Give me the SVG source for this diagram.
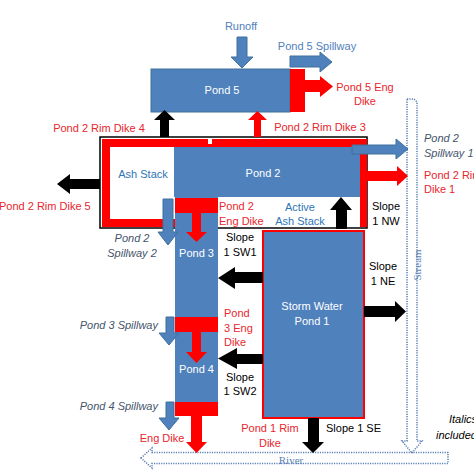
<svg xmlns="http://www.w3.org/2000/svg" width="474" height="474" viewBox="0 0 474 474">
<style>
text{font-family:"Liberation Sans",Arial,sans-serif;font-size:11px}
.pond{fill:#4F81BD;stroke:#41719C;stroke-width:1}
.red{fill:#FF0000}
.blk{fill:#000}
.spill{fill:#4F81BD;stroke:#41719C;stroke-width:1}
.wt{fill:#fff}
.rt{fill:#E8262D}
.bt{fill:#4F81BD}
.at{fill:#2E75B6}
.it{fill:#44546A;font-style:italic}
.kt{fill:#000}
.dot{fill:none;stroke:#5B7FB5;stroke-width:1.5;stroke-dasharray:1.2 1.2}
.mid{text-anchor:middle}
.end{text-anchor:end}
</style>
<rect width="474" height="474" fill="#fff"/>

<g id="ash-stack-frame">
<rect x="100" y="137" width="267" height="91" fill="#fff" stroke="#000" stroke-width="1.5"/>
<rect class="red" x="102" y="139" width="263" height="8"/>
<rect class="wt" x="208" y="139" width="4" height="5"/>
<rect class="red" x="102" y="147" width="8" height="80"/>
<rect class="red" x="102" y="219" width="73" height="8"/>
<rect class="red" x="360" y="139" width="7" height="88"/>
<text class="at mid" x="143" y="178">Ash Stack</text>
<text class="at mid" x="300" y="211">Active</text>
<text class="at mid" x="300" y="225">Ash Stack</text>
</g>

<g id="pond5">
<rect class="pond" x="151" y="69" width="139" height="43"/>
<rect class="red" x="290" y="69" width="15" height="43"/>
<text class="wt mid" x="222" y="94">Pond 5</text>
</g>

<g id="pond2">
<rect x="174" y="147" width="186" height="50" fill="#4F81BD"/>
<text class="wt mid" x="263" y="177">Pond 2</text>
</g>

<g id="pond3">
<rect x="175" y="197" width="43" height="120" fill="#4F81BD"/>
<rect class="red" x="175" y="198" width="43" height="15"/>
<text class="wt mid" x="196.5" y="257">Pond 3</text>
</g>

<g id="pond4">
<rect x="175" y="317" width="43" height="99" fill="#4F81BD"/>
<rect class="red" x="175" y="317" width="43" height="15"/>
<rect class="red" x="175" y="402" width="43" height="14"/>
<text class="wt mid" x="196.5" y="373">Pond 4</text>
</g>

<g id="pond1">
<rect x="263" y="231" width="101" height="187" fill="#4F81BD" stroke="#FF0000" stroke-width="2"/>
<text class="wt mid" x="312" y="310">Storm Water</text>
<text class="wt mid" x="312" y="325">Pond 1</text>
</g>

<g id="stream">
<polygon class="dot" points="407,99 414,99 417,102 417,441 422,441 412,453 402,441 407,441"/>
<text transform="translate(421,265) rotate(-90)" text-anchor="middle" style="font-family:'Liberation Serif',serif;font-size:11px;fill:#5B7FB5">Stream</text>
</g>

<g id="river">
<polygon class="dot" points="141,458 152,448 152,452.5 448,452.5 448,463.5 152,463.5 152,468"/>
<text x="291" y="464" text-anchor="middle" style="font-family:'Liberation Serif',serif;font-size:11px;fill:#5B7FB5">River</text>
</g>

<g id="connectors">
<polygon class="spill" points="237,37 247,37 247,57 253,57 242,68 231,57 237,57"/>
<polygon class="spill" points="290,56 320,56 320,52 332,62 320,72 320,67 290,67"/>
<polygon class="red" points="305,80 320,80 320,76 333,86.5 320,97 320,92 305,92"/>
<polygon class="blk" points="160,137 160,120 154,120 164.5,110 175,120 169,120 169,137"/>
<polygon class="red" points="254,137 254,120 248,120 257.5,111 267,120 261,120 261,137"/>
<polygon class="blk" points="100,179 70,179 70,174 57,184 70,194 70,189 100,189"/>
<polygon class="red" points="367,171 397,171 397,166 408,176 397,186 397,181 367,181"/>
<polygon class="spill" points="352,145 396,145 396,139 408,149 396,159 396,154 352,154"/>
<polygon class="spill" points="163,199 173,199 173,232 178,232 168,245 158,232 163,232"/>
<polygon class="red" points="192,213 201,213 201,232 207,232 196.5,242 186,232 192,232"/>
<polygon class="blk" points="336,229 336,210 330,210 341,197 352,210 347,210 347,229"/>
<polygon class="blk" points="263,272 235,272 235,267 218,278 235,289 235,283 263,283"/>
<polygon class="red" points="192,332 201,332 201,352 207,352 196.5,363 186,352 192,352"/>
<polygon class="spill" points="166,317 174,317 174,333 179,333 169,345 159,333 166,333"/>
<polygon class="blk" points="263,354 237,354 237,348 218,358.5 237,369 237,364 263,364"/>
<polygon class="blk" points="364,306 395,306 395,301 406,311.5 395,322 395,317 364,317"/>
<polygon class="spill" points="166,402 174,402 174,418 179,418 169,430 159,418 166,418"/>
<polygon class="red" points="191,416 202,416 202,442 207,442 196.5,453 186,442 191,442"/>
<polygon class="blk" points="308,418 319,418 319,442 324,442 313,453 302,442 308,442"/>
</g>

<g id="labels">
<text class="bt mid" x="241" y="30">Runoff</text>
<text class="bt mid" x="317" y="50">Pond 5 Spillway</text>
<text class="rt mid" x="365" y="91">Pond 5 Eng</text>
<text class="rt mid" x="365" y="105">Dike</text>
<text class="rt mid" x="99" y="132">Pond 2 Rim Dike 4</text>
<text class="rt mid" x="320" y="131">Pond 2 Rim Dike 3</text>
<text class="rt" x="-1" y="210">Pond 2 Rim Dike 5</text>
<text class="it mid" x="132" y="242">Pond 2</text>
<text class="it mid" x="132" y="257">Spillway 2</text>
<text class="rt" x="219" y="210">Pond 2</text>
<text class="rt" x="219" y="225">Eng Dike</text>
<text class="kt mid" x="386" y="210">Slope</text>
<text class="kt mid" x="386" y="225">1 NW</text>
<text class="kt mid" x="240" y="241">Slope</text>
<text class="kt mid" x="240" y="256">1 SW1</text>
<text class="kt mid" x="383" y="270">Slope</text>
<text class="kt mid" x="383" y="285">1 NE</text>
<text class="rt" x="224" y="317">Pond</text>
<text class="rt" x="224" y="332">3 Eng</text>
<text class="rt" x="224" y="346">Dike</text>
<text class="it end" x="158" y="329">Pond 3 Spillway</text>
<text class="kt mid" x="240" y="381">Slope</text>
<text class="kt mid" x="240" y="395">1 SW2</text>
<text class="it end" x="158" y="410">Pond 4 Spillway</text>
<text class="rt mid" x="270" y="432">Pond 1 Rim</text>
<text class="rt mid" x="270" y="447">Dike</text>
<text class="kt" x="326" y="432">Slope 1 SE</text>
<text class="rt mid" x="162" y="442">Eng Dike</text>
<text class="it" x="424" y="142">Pond 2</text>
<text class="it" x="424" y="157">Spillway 1</text>
<text class="rt" x="424" y="179">Pond 2 Rim</text>
<text class="rt" x="424" y="193">Dike 1</text>
<text class="kt" x="449" y="423" font-style="italic">Italics</text>
<text class="kt" x="436" y="439" font-style="italic">included</text>
</g>
</svg>
